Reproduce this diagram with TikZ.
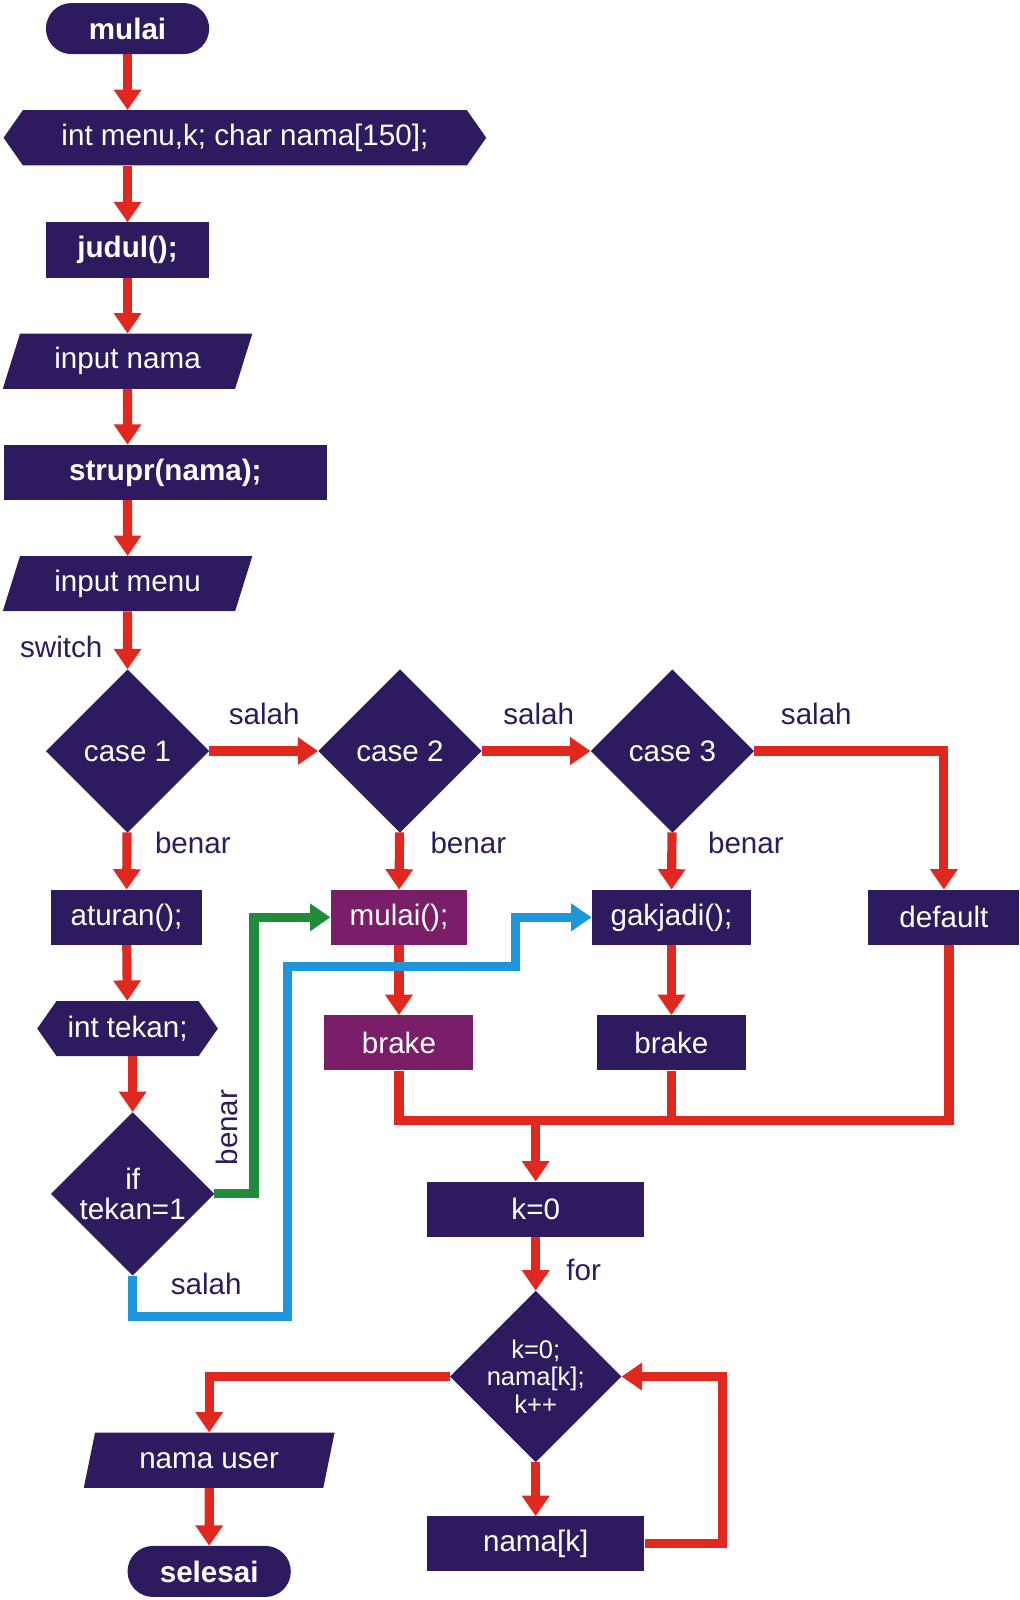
\documentclass[tikz,border=0pt]{standalone}
\usepackage{fontspec}
\setmainfont{Liberation Sans}
\usetikzlibrary{shapes.geometric,shapes.misc,shapes.symbols,arrows.meta}
\definecolor{dp}{HTML}{2E1A5E}
\definecolor{mg}{HTML}{7A1E6A}
\definecolor{rd}{HTML}{E0281E}
\definecolor{gr}{HTML}{1E8C3A}
\definecolor{bl}{HTML}{1E96DC}
\begin{document}
\begin{tikzpicture}[x=1pt,y=-1pt,
 every node/.style={font=\fontsize{29}{33}\selectfont, text=white, inner sep=0},
 box/.style={fill=dp, minimum height=54pt},
 term/.style={fill=dp, rounded corners=25pt, minimum width=160pt, minimum height=50pt, font=\fontsize{29}{33}\selectfont\bfseries},
 hexa/.style={fill=dp, signal, signal to=east and west, signal pointer angle=110, minimum height=54pt},
 para/.style={fill=dp, trapezium, trapezium left angle=67, trapezium right angle=113, trapezium stretches=true, minimum height=54pt},
 dia/.style={fill=dp, diamond, minimum width=160pt, minimum height=160pt, align=center},
 lab/.style={text=dp},
 ar/.style={draw=rd, line width=9pt, -{Triangle[length=20pt,width=26pt]}},
 ln/.style={draw=rd, line width=9pt},
]
\useasboundingbox[fill=white] (0,0) rectangle (999,1568);
\node[term] (start) at (125,28) {mulai};
\node[hexa, minimum width=473pt] (decl) at (240,135) {int menu,k; char nama[150];};
\node[box, minimum width=159pt, font=\fontsize{29}{33}\selectfont\bfseries] (judul) at (125,245) {judul();};
\node[para, minimum width=245pt] (inama) at (125,354) {input nama};
\node[box, minimum width=317pt, font=\fontsize{29}{33}\selectfont\bfseries] (strupr) at (162,463) {strupr(nama);};
\node[para, minimum width=245pt] (imenu) at (125,572) {input menu};
\node[lab] (sw) at (60,634) {switch};
\node[dia] (c1) at (125,736) {case 1};
\node[dia] (c2) at (392,736) {case 2};
\node[dia] (c3) at (659,736) {case 3};
\node[lab] (s1) at (259,700) {salah};
\node[lab] (s2) at (528,700) {salah};
\node[lab] (s3) at (800,700) {salah};
\node[lab] (b1) at (189,826) {benar};
\node[lab] (b2) at (459,826) {benar};
\node[lab] (b3) at (731,826) {benar};
\node[box, minimum width=148pt] (atur) at (124,899) {aturan();};
\node[box, fill=mg, minimum width=134pt] (mul) at (391,899) {mulai();};
\node[box, minimum width=156pt] (gak) at (658,899) {gakjadi();};
\node[box, minimum width=148pt] (def) at (925,899) {default};
\node[hexa, minimum width=177pt] (tekan) at (125,1008) {int tekan;};
\node[box, fill=mg, minimum width=146pt] (br1) at (391,1022) {brake};
\node[box, minimum width=146pt] (br2) at (658,1022) {brake};
\node[dia] (if) at (130,1170) {if\\[-4pt]tekan=1};
\node[box, minimum width=213pt] (k0) at (525,1185) {k=0};
\node[lab] (for) at (572,1245) {for};
\node[dia, font=\fontsize{25}{29}\selectfont] (loop) at (525,1349) {k=0;\\[-2pt]nama[k];\\[-2pt]k++};
\node[para, minimum width=246pt] (nuser) at (205,1431) {nama user};
\node[box, minimum width=213pt] (nk) at (525,1513) {nama[k]};
\node[term] (end) at (205,1540) {selesai};
\node[lab, rotate=90] (bn) at (222,1105) {benar};
\node[lab] (sl) at (202,1258) {salah};
\coordinate (m) at (525,1098);

\draw[ar] (start) -- (decl.north -| start);
\draw[ar] (decl.south -| judul) -- (judul);
\draw[ar] (judul) -- (inama);
\draw[ar] (inama) -- (strupr.north -| inama);
\draw[ar] (strupr.south -| imenu) -- (imenu);
\draw[ar] (imenu) -- (c1);
\draw[ar] (c1) -- (c2);
\draw[ar] (c2) -- (c3);
\draw[ar] (c3.east) -| (def.north);
\draw[ar] (c1) -- (atur);
\draw[ar] (c2) -- (mul);
\draw[ar] (c3) -- (gak);
\draw[ar] (atur) -- (tekan);
\draw[ar] (tekan.south -| if) -- (if);
\draw[ar] (mul) -- (br1);
\draw[ar] (gak) -- (br2);
\draw[ln] (br1.south) -- (br1.south |- m) -- (930,1098) -- (def.south -| 930,0);
\draw[ln] (br2.south) -- (br2.south |- m);
\draw[ar] (m) -- (k0);
\draw[ar] (k0) -- (loop);
\draw[ar] (loop.west) -| (nuser.north);
\draw[ar] (nuser) -- (end);
\draw[ar] (loop) -- (nk);
\draw[ar] (nk.east) -- (708,1513) -- (708,1349) -- (loop.east);
\draw[draw=gr, line width=9pt, -{Triangle[length=20pt,width=26pt]}] (if.east) -- (249,1170) -- (249,899) -- (mul.west);
\draw[draw=bl, line width=9pt, -{Triangle[length=20pt,width=26pt]}] (if.south) -- (130,1290) -- (282,1290) -- (282,947) -- (505,947) -- (505,899) -- (gak.west);
\end{tikzpicture}
\end{document}
